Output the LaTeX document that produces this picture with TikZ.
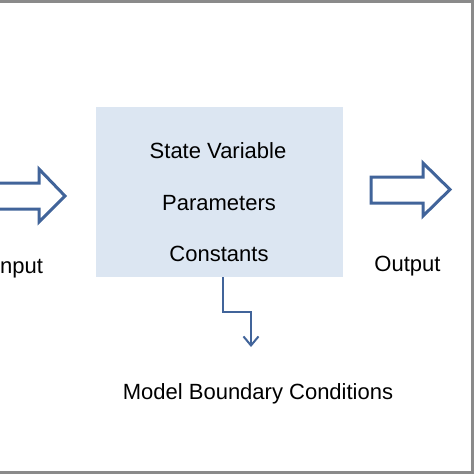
\documentclass[tikz,border=0pt]{standalone}
\usepackage{fontspec}
\setmainfont{Liberation Sans}
\usetikzlibrary{arrows.meta}
\definecolor{arrowblue}{HTML}{41649A}
\definecolor{boxfill}{HTML}{DCE6F2}
\definecolor{framegray}{HTML}{8A8A8A}
\begin{document}
\begin{tikzpicture}[x=1pt,y=-1pt,font=\fontsize{22}{26}\selectfont,
	label/.style={anchor=base,inner sep=0pt},
	blockarrow/.style={draw=arrowblue,line width=3pt,line join=miter},
	elbow/.style={draw=arrowblue,line width=2pt,-{Straight Barb[length=9pt,width=15pt,line width=2pt]}}]
					\useasboundingbox (0,0) rectangle (474,474);
					\draw[framegray,line width=3pt] (0,1.5)--(472.5,1.5)--(472.5,472.5)--(0,472.5);
					\node[fill=boxfill,minimum width=247pt,minimum height=170pt,inner sep=0pt] (box) at (219.5,192) {};
					\node[label] (state) at (218,158) {State Variable};
					\node[label] (param) at (219,210) {Parameters};
					\node[label] (const) at (219,261) {Constants};
					\draw[blockarrow] (-10,183)--(39,183)--(39,169)--(65,196)--(39,222)--(39,209)--(-10,209);
					\draw[blockarrow] (371,177)--(423,177)--(423,163)--(450,189.5)--(423,216)--(423,203)--(371,203)--cycle;
					\node[label] (input) at (18.5,273) {Input};
					\node[label] (output) at (407.5,271) {Output};
					\coordinate (bend) at (251,347);
					\draw[elbow] (box.south) ++(3.5,0) |- (bend |- 0,312) -- (bend);
					\node[label] (bound) at (258,399) {Model Boundary Conditions};
				\end{tikzpicture}
\end{document}
